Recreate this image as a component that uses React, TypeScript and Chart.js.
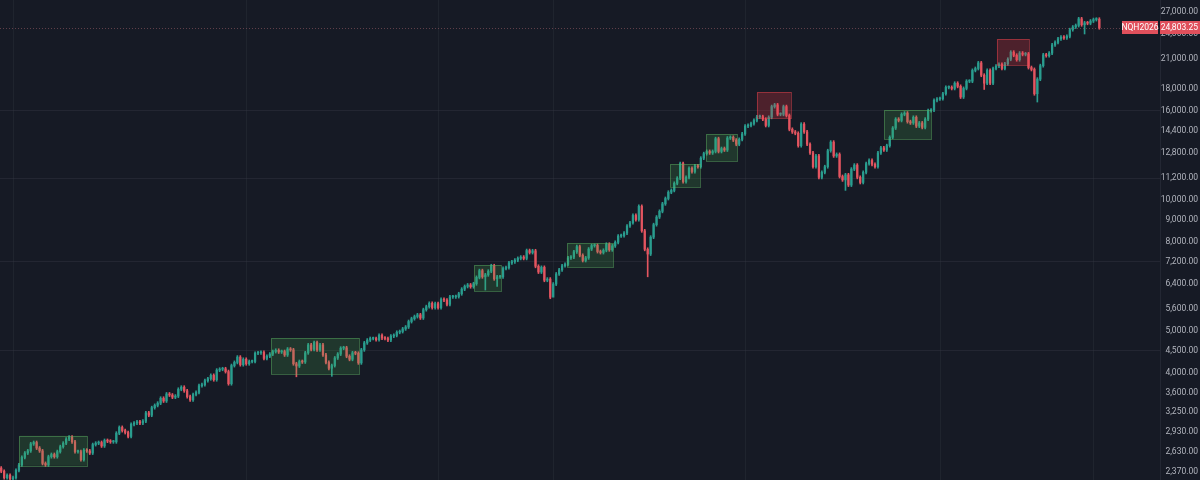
import { useEffect, useRef } from "react";
import { Chart, registerables } from "chart.js";

Chart.register(...registerables);

// Biweekly closes (NQ continuous), Nov 2011 → Feb 2026
const c2011 = [2380, 2300, 2330, 2285, 2300];
const c2012 = [2390, 2460, 2560, 2620, 2650, 2750, 2770, 2690, 2650, 2480, 2460, 2570, 2600, 2570, 2640, 2710, 2760, 2820, 2850, 2780, 2640, 2640, 2530, 2660, 2650, 2620];
const c2013 = [2740, 2760, 2770, 2720, 2800, 2790, 2780, 2780, 2910, 3000, 2950, 2920, 2860, 3050, 3070, 3090, 3070, 3100, 3240, 3200, 3330, 3370, 3410, 3500, 3450, 3580];
const c2014 = [3560, 3520, 3540, 3670, 3710, 3640, 3530, 3470, 3570, 3610, 3740, 3760, 3840, 3880, 3950, 3860, 4060, 4080, 4090, 4030, 3780, 4160, 4230, 4350, 4180, 4300];
const c2015 = [4200, 4250, 4250, 4440, 4450, 4460, 4320, 4370, 4420, 4480, 4510, 4470, 4480, 4400, 4540, 4520, 4200, 4150, 4250, 4240, 4450, 4640, 4530, 4700, 4520, 4640];
const c2016 = [4400, 4230, 4100, 4160, 4330, 4420, 4560, 4570, 4370, 4300, 4450, 4440, 4220, 4520, 4690, 4760, 4800, 4800, 4770, 4880, 4810, 4800, 4760, 4860, 4880, 4960];
const c2017 = [4980, 5050, 5100, 5250, 5330, 5390, 5440, 5350, 5590, 5680, 5780, 5650, 5770, 5650, 5900, 5880, 5750, 5980, 5980, 5990, 6080, 6230, 6320, 6370, 6310, 6410];
const c2018 = [6630, 6870, 6650, 6720, 6850, 7050, 6580, 6650, 6650, 6950, 6980, 7160, 7200, 7260, 7330, 7380, 7330, 7640, 7560, 7630, 7030, 6820, 6990, 6530, 6570, 5970];
const c2019 = [6400, 6750, 6900, 7050, 7100, 7350, 7380, 7590, 7800, 7450, 7250, 7350, 7700, 7840, 7850, 7600, 7560, 7650, 7900, 7670, 7830, 7980, 8250, 8270, 8380, 8700];
const c2020 = [8850, 9200, 9000, 9650, 8480, 7690, 7500, 8200, 8760, 9120, 9400, 9780, 10060, 10400, 10500, 10900, 11200, 12100, 11000, 11250, 11800, 11600, 11950, 11900, 12450, 12750];
const c2021 = [12900, 12800, 12900, 13800, 12900, 13100, 13000, 13850, 13900, 13700, 13400, 13750, 14150, 14750, 14800, 14950, 15200, 15480, 15500, 15300, 14800, 15450, 16350, 16500, 15700, 15700];
const c2022 = [16350, 15600, 14500, 14300, 14200, 13300, 14900, 14300, 13400, 12800, 11900, 12600, 11250, 11550, 11900, 12950, 13550, 12600, 12700, 11300, 11100, 11400, 10800, 11750, 12000, 11250];
const c2023 = [10950, 11550, 12100, 12300, 12050, 11900, 12800, 13150, 13000, 13300, 13900, 14600, 15300, 15200, 15700, 15800, 15100, 15000, 15450, 14750, 15000, 14650, 15300, 16000, 16050, 16900];
const c2024 = [17020, 17050, 17500, 18100, 18100, 18000, 18500, 18200, 17200, 18000, 18700, 18700, 19800, 20000, 20600, 19300, 18500, 19800, 18500, 20000, 20250, 20450, 20000, 20500, 21000, 21800];
const c2025 = [21450, 20950, 21700, 21550, 21600, 20100, 19900, 17500, 18900, 20300, 21500, 21400, 21700, 22650, 22950, 23400, 23600, 23500, 23700, 24550, 24900, 25100, 26000, 25200, 25450, 25400];
const c2026 = [25700, 25900, 25950, 24803.25];

const closes = [
  ...c2011, ...c2012, ...c2013, ...c2014, ...c2015, ...c2016, ...c2017,
  ...c2018, ...c2019, ...c2020, ...c2021, ...c2022, ...c2023, ...c2024,
  ...c2025, ...c2026,
];
const firstOpen = 2420;

// Deep lows (long lower wicks)
const spikeIdx = [100, 112, 164, 168, 187, 219, 286, 333, 351, 367];
const spikeLow = [3920, 3930, 6200, 6320, 6000, 6650, 10500, 17900, 16750, 24000];

// Price axis
const priceTicks = [2370, 2630, 2930, 3250, 3600, 4000, 4500, 5000, 5600, 6400, 7200, 8000, 9000, 10000, 11200, 12800, 14400, 16000, 18000, 21000, 24000, 27000];
const gridLevels = [4500, 7200, 11200, 16000];
const vGridIdx = [4, 83, 148, 187, 252, 318, 370];

// Highlight boxes: [startIdx, endIdx, low, high]
const greenBoxes = [
  [6.0, 29.1, 2450, 2870],
  [91.4, 121.2, 3979, 4812],
  [160.2, 169.3, 6167, 7077],
  [191.7, 207.3, 7003, 7948],
  [226.6, 236.7, 10690, 12072],
  [238.8, 249.3, 12267, 14146],
  [299.1, 315.0, 13777, 16060],
];
const redBoxes = [
  [256.0, 267.5, 15395, 17653],
  [337.3, 348.2, 20371, 23371],
];

const symbol = "NQH2026";
const lastPrice = 24803.25;

// style
const BG = "#161a25";
const UP = "#2a9d8f";
const DOWN = "#e35560";
const WICK = 0.008;
const FONT = "Roboto";

const fmt = (v: number) =>
  Number(v).toLocaleString("en-US", { minimumFractionDigits: 2, maximumFractionDigits: 2 });

export default function App() {
  const ref = useRef<HTMLCanvasElement | null>(null);

  useEffect(() => {
    if (!ref.current) return;
    const opens = closes.map((c, i) => (i === 0 ? firstOpen : closes[i - 1]));
    const highs = closes.map((c, i) => Math.max(opens[i], c) * (1 + WICK));
    const lows = closes.map((c, i) => {
      const s = spikeIdx.indexOf(i);
      return s >= 0 ? spikeLow[s] : Math.min(opens[i], c) * (1 - WICK);
    });
    const colors = closes.map((c, i) => (c >= opens[i] ? UP : DOWN));

    const overlay = {
      id: "overlay",
      beforeDatasetsDraw(chart: any) {
        const { ctx, chartArea, scales } = chart;
        const x = scales.x;
        ctx.save();
        ctx.strokeStyle = "rgba(54,58,69,0.3)";
        ctx.lineWidth = 1;
        for (const i of vGridIdx) {
          const px = Math.round(x.getPixelForValue(i)) + 0.5;
          ctx.beginPath();
          ctx.moveTo(px, chartArea.top);
          ctx.lineTo(px, chartArea.bottom);
          ctx.stroke();
        }
        ctx.restore();
      },
      afterDatasetsDraw(chart: any) {
        const { ctx, chartArea, scales } = chart;
        const x = scales.x;
        const y = scales.y;
        ctx.save();
        const drawBox = (b: number[], fill: string, stroke: string) => {
          const x0 = x.getPixelForValue(b[0]);
          const x1 = x.getPixelForValue(b[1]);
          const y0 = y.getPixelForValue(b[3]);
          const y1 = y.getPixelForValue(b[2]);
          ctx.fillStyle = fill;
          ctx.fillRect(x0, y0, x1 - x0, y1 - y0);
          ctx.strokeStyle = stroke;
          ctx.lineWidth = 1;
          ctx.strokeRect(Math.round(x0) + 0.5, Math.round(y0) + 0.5, Math.round(x1 - x0), Math.round(y1 - y0));
        };
        greenBoxes.forEach((b) => drawBox(b, "rgba(76,175,80,0.2)", "rgba(96,180,100,0.45)"));
        redBoxes.forEach((b) => drawBox(b, "rgba(242,54,69,0.25)", "rgba(242,70,80,0.45)"));
        // last price line
        const py = Math.round(y.getPixelForValue(lastPrice)) + 0.5;
        ctx.strokeStyle = "rgba(170,100,110,0.5)";
        ctx.setLineDash([1, 2]);
        ctx.beginPath();
        ctx.moveTo(chartArea.left, py);
        ctx.lineTo(chartArea.right, py);
        ctx.stroke();
        ctx.restore();
      },
      afterDraw(chart: any) {
        const { ctx, chartArea, scales } = chart;
        const y = scales.y;
        const py = y.getPixelForValue(lastPrice);
        ctx.save();
        const h = 13;
        const top = Math.round(py - h / 2);
        ctx.fillStyle = "#e0505c";
        ctx.fillRect(chartArea.right - 38, top, 36, h);
        ctx.fillRect(chartArea.right, top, 1200 - chartArea.right, h);
        ctx.fillStyle = "#ffffff";
        ctx.font = `8.5px ${FONT}`;
        ctx.textBaseline = "middle";
        ctx.textAlign = "center";
        ctx.fillText(symbol, chartArea.right - 20, top + h / 2 + 0.5);
        ctx.textAlign = "right";
        ctx.fillText(fmt(lastPrice), 1198, top + h / 2 + 0.5);
        ctx.restore();
      },
    };

    const chart = new Chart(ref.current, {
      type: "bar",
      data: {
        datasets: [
          {
            data: closes.map((_, i) => ({ x: i, y: [lows[i], highs[i]] })) as any,
            backgroundColor: colors,
            barThickness: 1,
            grouped: false,
            order: 2,
          } as any,
          {
            data: closes.map((c, i) => ({ x: i, y: [opens[i], c] })) as any,
            backgroundColor: colors,
            barThickness: 1.6,
            minBarLength: 1,
            grouped: false,
            order: 1,
          } as any,
        ],
      },
      options: {
        animation: false,
        responsive: true,
        maintainAspectRatio: false,
        layout: { padding: { left: 0, top: 0, bottom: 0, right: 2 } },
        plugins: { legend: { display: false }, tooltip: { enabled: false } },
        scales: {
          x: {
            type: "linear",
            display: false,
            min: -0.41,
            max: 392.55,
            offset: false,
          },
          y: {
            type: "logarithmic",
            position: "right",
            min: 2272,
            max: 28723,
            afterBuildTicks: (s: any) => {
              s.ticks = priceTicks.map((v) => ({ value: v }));
            },
            afterFit: (s: any) => {
              s.width = 38;
              s.paddingTop = 0;
              s.paddingBottom = 0;
            },
            ticks: {
              autoSkip: false,
              padding: 2,
              crossAlign: "far",
              color: "#b2b5be",
              font: { size: 8.5, family: FONT },
              callback: (v: any) => fmt(Number(v)),
            },
            grid: {
              drawTicks: false,
              color: (c: any) =>
                c.tick && gridLevels.includes(c.tick.value) ? "rgba(54,58,69,0.4)" : "rgba(0,0,0,0)",
            },
            border: { display: true, color: "rgba(42,46,57,0.7)" },
          } as any,
        },
      },
      plugins: [overlay],
    });
    return () => chart.destroy();
  }, []);

  return (
    <div style={{ position: "fixed", left: 0, top: 0, width: 1200, height: 480, background: BG }}>
      <canvas ref={ref} />
    </div>
  );
}
